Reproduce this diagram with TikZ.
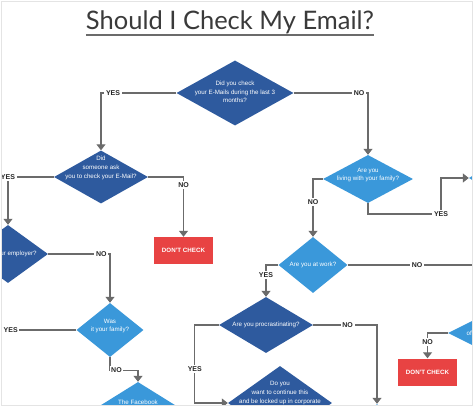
\documentclass[tikz,border=0pt]{standalone}
\usepackage{fontspec}
\setmainfont{Liberation Sans}
\newfontfamily\titlefont{Lato}
\usetikzlibrary{arrows.meta,shapes.geometric}
\definecolor{qdark}{HTML}{2E5A9E}
\definecolor{qlight}{HTML}{3A98DA}
\definecolor{stopred}{HTML}{E84343}
\definecolor{wire}{HTML}{6B6B6B}
\definecolor{edgegray}{HTML}{E4E4E4}
\definecolor{titlegray}{HTML}{3A3A3A}
\tikzset{
  link/.style={-{Triangle[length=6pt,width=9pt]}, line width=1.2pt, draw=wire},
  plainlink/.style={line width=1.2pt, draw=wire},
  darkq/.style={diamond, fill=qdark, inner sep=0pt},
  lightq/.style={diamond, fill=qlight, inner sep=0pt},
  qtext/.style={text=white, align=center, font=\fontsize{6.2}{8.7}\selectfont, inner sep=0pt},
  stopbox/.style={fill=stopred, text=white, font=\fontsize{6.2}{7}\selectfont\bfseries,
    minimum width=59pt, minimum height=27pt, inner sep=0pt},
  lbl/.style={fill=white, font=\fontsize{7}{8}\selectfont\bfseries, inner sep=1.6pt, text=black!85},
  titletxt/.style={font=\titlefont\fontsize{25.5}{30}\selectfont, text=titlegray, inner xsep=0pt}
}

\begin{document}
\begin{tikzpicture}[x=1pt, y=-1pt]
\useasboundingbox (0,0) rectangle (474,409);
\begin{scope}
\clip (1,1) rectangle (472,405);
% title
\node[titletxt, anchor=base] (title) at (230,30) {Should I Check My Email?};
\draw[line width=1.3pt, draw=wire] ([yshift=-5pt]title.base west) -- ([yshift=-5pt]title.base east);

% questions
\node[darkq, minimum width=117pt, minimum height=65pt,
  label={[qtext, yshift=1pt]center:{Did you check\\your E-Mails during the last 3\\months?}}] (q1) at (235,93) {};
\node[darkq, minimum width=94pt, minimum height=53pt,
  label={[qtext, yshift=9pt]center:{Did\\someone ask\\you to check your E-Mail?}}] (q2) at (101,177) {};
\node[lightq, minimum width=90pt, minimum height=48pt,
  label={[qtext, yshift=4pt]center:{Are you\\living with your family?}}] (q3) at (368,179) {};
\node[lightq, minimum width=69pt, minimum height=56pt,
  label={[qtext]center:{Are you at work?}}] (q4) at (313,265) {};
\node[darkq, minimum width=94pt, minimum height=56pt,
  label={[qtext]center:{Are you procrastinating?}}] (q5) at (266,325) {};
\node[darkq, minimum width=104pt, minimum height=74pt,
  label={[qtext, yshift=10pt]center:{Do you\\want to continue this\\and be locked up in corporate}}] (q6) at (280,403) {};
\node[darkq, minimum width=80pt, minimum height=58pt,
  label={[qtext, xshift=10.5pt]center:{ur employer?}}] (q7) at (8,254) {};
\node[lightq, minimum width=67pt, minimum height=54pt,
  label={[qtext, yshift=4pt]center:{Was\\it your family?}}] (q8) at (110,330) {};
\node[lightq, minimum width=122pt, minimum height=76pt,
  label={[qtext, yshift=18pt]center:{The Facebook}}] (q9) at (138,420) {};
\node[lightq, minimum width=40pt, minimum height=40pt] (q10) at (377,424) {};
\node[lightq, minimum width=104pt, minimum height=52pt,
  label={[qtext, xshift=-30pt]center:{off}}] (q11) at (500,333) {};
\node[lightq, minimum width=62pt, minimum height=40pt] (q12) at (500,178) {};

% answers
\node[stopbox] (b1) at (183.5,250.5) {DON'T CHECK};
\node[stopbox] (b2) at (427.5,372) {DON'T CHECK};

% loose ends
\coordinate (e1) at (0,330);
\coordinate (e2) at (474,265);
\coordinate (k1) at (441,214);

% connectors
\draw[link] (q1.west) -| node[lbl, pos=0.42] {YES} (q2.north);
\draw[link] (q1.east) -| node[lbl, pos=0.44] {NO} (q3.north);
\draw[link] (q2.west) -| node[lbl, pos=0.5] {YES} (q7.north);
\draw[link] (q2.east) -| node[lbl, pos=0.57] {NO} (b1.north);
\draw[link] (q7.east) -| node[lbl, pos=0.43] {NO} (q8.north);
\draw[plainlink] (q8.west) -- node[lbl, pos=0.86] {YES} (e1);
\draw[link] (q8.south) -- ++(0,13) node[lbl, anchor=west, xshift=-1pt] {NO} -| (q9.north);
\draw[link] (q3.west) -| node[lbl, pos=0.7] {NO} (q4.north);
\draw[link] (q3.south) |- (k1) node[lbl] {YES} |- (q12.west);
\draw[plainlink] (q4.east) -- node[lbl, pos=0.55] {NO} (e2);
\draw[link] (q4.west) -| node[lbl, pos=0.66] {YES} (q5.north);
\draw[link] (q5.east) -| node[lbl, pos=0.27] {NO} (q10.north);
\draw[link] (q5.west) -- ++(-24,0) |- node[lbl, pos=0.28] {YES} (q6.west);
\draw[link] (q11.west) -| node[lbl, pos=0.68] {NO} (b2.north);
\end{scope}
\draw[edgegray, line width=0.8pt] (1,1) rectangle (472,405);
\end{tikzpicture}
\end{document}
